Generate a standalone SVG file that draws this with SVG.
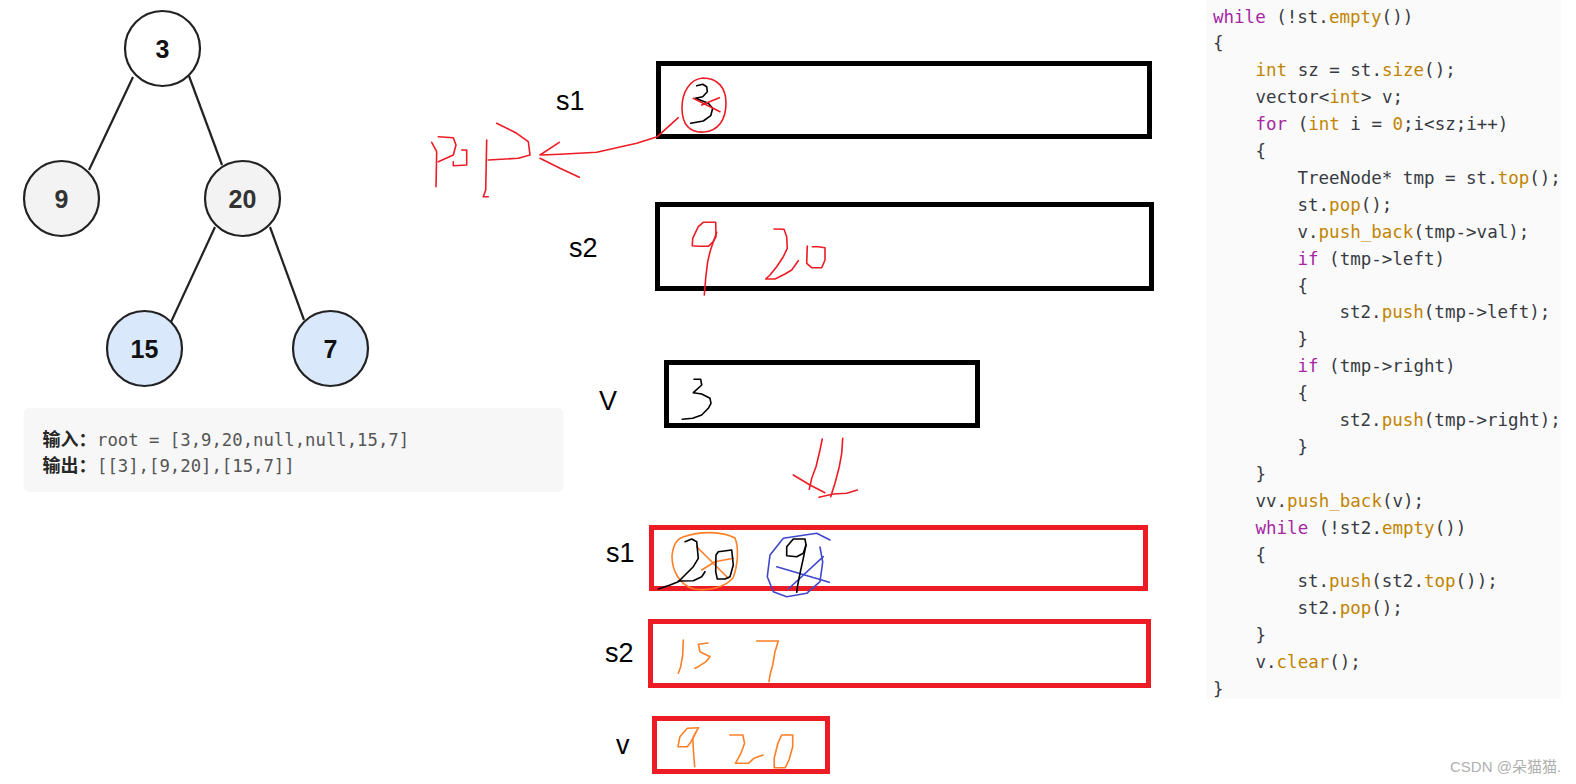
<svg xmlns="http://www.w3.org/2000/svg" width="1576" height="784" viewBox="0 0 1576 784">
<style>
.node{stroke:#222;stroke-width:2.2}
.nt{font-family:"Liberation Sans",Arial,sans-serif;font-weight:bold;font-size:25px;text-anchor:middle}
.edge{stroke:#222;stroke-width:2.2;fill:none}
.lbl{font-family:"Liberation Sans",Arial,sans-serif;font-size:27px;fill:#000}
.bbox{fill:none;stroke:#000;stroke-width:5}
.rbox{fill:none;stroke:#ed1c24;stroke-width:5}
.hw{fill:none;stroke-width:1.6;stroke-linejoin:round;stroke-linecap:round}
.red{stroke:#ed1c24}
.blk{stroke:#000}
.org{stroke:#ff7f27}
.blu{stroke:#3f48cc}
.code{font-family:"DejaVu Sans Mono",monospace;font-size:17.5px;fill:#383a42}
.k{fill:#a626a4}
.f{fill:#c18401}
.cjk{font-family:"Noto Sans CJK SC",sans-serif;font-weight:bold;font-size:18px;fill:#262626}
.mono{font-family:"DejaVu Sans Mono",monospace;font-size:17.3px;fill:#555}
</style>

<!-- Tree connectors -->
<g id="connectors">
<line class="edge" x1="133" y1="77" x2="89" y2="170"/>
<line class="edge" x1="189" y1="76" x2="222" y2="165"/>
<line class="edge" x1="215" y1="227" x2="171" y2="322"/>
<line class="edge" x1="270" y1="227" x2="304" y2="320"/>
</g>
<g id="node-3"><circle class="node" cx="162.5" cy="48.5" r="37.5" fill="#ffffff"/><text class="nt" x="162.5" y="57.5" fill="#111">3</text></g>
<g id="node-9"><circle class="node" cx="61.5" cy="198.5" r="37.5" fill="#f3f3f3"/><text class="nt" x="61.5" y="207.5" fill="#333">9</text></g>
<g id="node-20"><circle class="node" cx="242.5" cy="198.5" r="37.5" fill="#f3f3f3"/><text class="nt" x="242.5" y="207.5" fill="#333">20</text></g>
<g id="node-15"><circle class="node" cx="144.5" cy="348.5" r="37.5" fill="#dae8fc"/><text class="nt" x="144.5" y="357.5" fill="#111">15</text></g>
<g id="node-7"><circle class="node" cx="330.5" cy="348.5" r="37.5" fill="#dae8fc"/><text class="nt" x="330.5" y="357.5" fill="#111">7</text></g>

<!-- Example box -->
<g id="example">
<rect x="23.5" y="408" width="540" height="84" rx="6" fill="#f7f7f8"/>
<text class="cjk" x="42.5" y="446">输入：</text>
<text class="mono" x="97" y="446">root = [3,9,20,null,null,15,7]</text>
<text class="cjk" x="42.5" y="472">输出：</text>
<text class="mono" x="97" y="472">[[3],[9,20],[15,7]]</text>
</g>

<!-- Labels and boxes -->
<text class="lbl" x="556" y="110">s1</text>
<rect class="bbox" x="658.5" y="63.5" width="491" height="73"/>
<text class="lbl" x="569" y="257">s2</text>
<rect class="bbox" x="657.5" y="204.5" width="494" height="84"/>
<text class="lbl" x="599" y="410">V</text>
<rect class="bbox" x="666.5" y="362.5" width="311" height="63"/>
<text class="lbl" x="606" y="562">s1</text>
<rect class="rbox" x="651.5" y="527.5" width="494" height="61"/>
<text class="lbl" x="605" y="662">s2</text>
<rect class="rbox" x="650.5" y="621.5" width="498" height="64"/>
<text class="lbl" x="616" y="754">v</text>
<rect class="rbox" x="654.5" y="718.5" width="173" height="53"/>

<!-- Handwriting: PoP arrow & circled 3 -->
<g id="hand-pop">
<path class="hw red" d="M431.7,142.3 L436.7,151.7 L436,186.7"/>
<path class="hw red" d="M438.3,136.7 L453.3,137.7 L456,145 L453.3,155 L438.3,161.7"/>
<path class="hw red" d="M453.3,161.7 L453.3,165.7 L466.7,165 L466.7,150 L461.7,150"/>
<path class="hw red" d="M486.7,140 L485.7,190 L483.3,196.7 L488.3,196.7"/>
<path class="hw red" d="M496.7,123.3 L516.7,133.3 L528.3,141.7 L530,155 L518.3,158.3 L488.3,160"/>
<path class="hw red" d="M678.3,117.7 L657.3,136.7 L636.7,143.3 L596.7,152.3 L560,154.3 L541.7,155"/>
<path class="hw red" d="M559.3,142.3 L540,155"/>
<path class="hw red" d="M540,158.3 L560,168.3 L579.3,177.3"/>
<path class="hw red" d="M703,78 C690,79 682,92 682,108 C682,125 690,133 704,132 C718,131 726,120 726,103 C726,88 718,78 703,78 Z"/>
<path class="hw blk" d="M696.7,85.7 L702.7,84.3 L706.7,86.7 L707.3,91.7 L702.7,96.7 L695.3,98.3 L700,100 L708.3,103.3 L712.7,108.3 L710.7,115.7 L703.3,121 L690.7,123.3"/>
<path class="hw red" d="M693.3,98.3 L720,111.7 M701.7,105 L719.3,97.7"/>
</g>

<!-- Handwriting: s2 "9 20" -->
<g id="hand-s2">
<path class="hw red" d="M715.7,222.3 L703.3,222.3 L698.3,226.7 L692.7,238.3 L692.3,245.7 L698.3,246.3 L708.3,246.3 L713.3,241.7 L716,236.7 L715.7,222.3"/>
<path class="hw red" d="M716.7,232.3 L713.3,241.7 L710,251.7 L707.7,261.7 L706,275 L704.3,295"/>
<path class="hw red" d="M774,229 L784,229.3 L786.7,236.7 L787.3,248.3 L783.3,256.7 L776.7,266.7 L770,275 L765.7,279 L775,279 L785,274 L791.7,270 L798.3,260.7"/>
<path class="hw red" d="M807.3,246 L806.7,263.3 L811.7,267.7 L821.7,267.7 L825,260 L825,247.7 L818.3,246.7 L812.3,246.7"/>
</g>

<!-- Handwriting: v "3" and down arrow -->
<g id="hand-v">
<path class="hw blk" d="M694,379.3 L700.7,379.3 L701.7,385 L693.3,392.7 L701.7,394 L710,398.3 L711,403.3 L708.3,408.3 L701.7,415 L692.7,418.3 L682.3,419.3"/>
<path class="hw red" d="M822.3,439 L820,450 L816,466.7 L811.7,478.3 L809.3,489.3"/>
<path class="hw red" d="M842.7,438.3 L841.7,453.3 L839.3,466.7 L835,483.3 L830.7,496.7"/>
<path class="hw red" d="M793.3,475 L810,485 L825,492.7"/>
<path class="hw red" d="M819,497.3 L833.3,494 L846.7,493.3 L857.3,490"/>
</g>

<!-- Handwriting: lower s1 -->
<g id="hand-s1b">
<path class="hw org" d="M683,537 C700,531 722,531 735,538 C739,548 738,565 733,578 C724,588 708,591 694,589 C679,585 672,570 672,556 C673,545 677,539 683,537 Z"/>
<path class="hw org" d="M696.7,546.7 L728.3,578.3 M701.7,570 L715,561.7 L733.3,558.3"/>
<path class="hw blk" d="M685,541.7 L691.7,539 L696.7,541.7 L698.3,558.3 L693.3,566.7 L683.3,576.7 L678.3,581.7 L670,585 L658.3,589"/>
<path class="hw blk" d="M678.3,581 L693.3,580.7 L701.7,576.7 L705,571.7"/>
<path class="hw blk" d="M716,555 L718.3,551.7 L731.7,550 L733.3,565 L730,576.7 L725,579 L717.3,579 L715.7,571.7 L716,555"/>
<path class="hw blu" d="M830,540 L816.7,533.3 L783.3,538.3 L770,555 L767.3,576.7 L773.3,591.7 L786.7,596.7 L806.7,593.3 L820,581.7 L822.7,562 L820,547"/>
<path class="hw blu" d="M776.7,566.7 L829.3,582.3 M788.3,589 L823.3,556.7"/>
<path class="hw blk" d="M805,539 L793.3,539 L786.7,546.7 L786.7,555.7 L796.7,556.7 L803.3,553.3 L806,545 L805,539"/>
<path class="hw blk" d="M806,545 L803.3,558.3 L800,573.3 L797.7,585 L796.7,592.3"/>
</g>

<!-- Handwriting: lower s2 -->
<g id="hand-s2b">
<path class="hw org" d="M683.3,640 L682.7,655 L680.7,666.7 L678.3,673.3"/>
<path class="hw org" d="M708,643 L698.3,644.3 L700,651.7 L710,656.7 L706,661.7 L698.3,666.7 L695,668.3"/>
<path class="hw org" d="M756.7,641 L778.3,641 L775,651.7 L772.7,665 L770,675 L769,681.7"/>
</g>

<!-- Handwriting: lower v -->
<g id="hand-vb">
<path class="hw org" d="M698.4,727.7 L687.3,728.3 L679.9,736.7 L678,746.7 L687.3,746.7 L691,741.7 L696,732"/>
<path class="hw org" d="M698.4,727.7 L692.8,738.3 L693.5,752 L694.7,766.7"/>
<path class="hw org" d="M729.8,735 L742.8,735 L744.6,743.3 L740.9,753.3 L735.4,763.3 L748.3,763.3 L753.9,758.3 L763.1,755"/>
<path class="hw org" d="M781.6,735 L792.7,735 L792.7,746.7 L789,760 L785.3,767.7 L774.2,767.7 L774.2,758.3 L777.9,743.3 L781.6,735"/>
</g>

<!-- Code panel -->
<g id="code">
<rect x="1206" y="0" width="355" height="699" fill="#fafafa"/>
<text class="code" x="1213" y="22.5"><tspan class="k">while</tspan> (!st.<tspan class="f">empty</tspan>())</text>
<text class="code" x="1213" y="49.4">{</text>
<text class="code" x="1255.5" y="76.3"><tspan class="f">int</tspan> sz = st.<tspan class="f">size</tspan>();</text>
<text class="code" x="1255.5" y="103.2">vector&lt;<tspan class="f">int</tspan>&gt; v;</text>
<text class="code" x="1255.5" y="130.1"><tspan class="k">for</tspan> (<tspan class="f">int</tspan> i = <tspan class="f">0</tspan>;i&lt;sz;i++)</text>
<text class="code" x="1255.5" y="157">{</text>
<text class="code" x="1297.5" y="183.9">TreeNode* tmp = st.<tspan class="f">top</tspan>();</text>
<text class="code" x="1297.5" y="210.8">st.<tspan class="f">pop</tspan>();</text>
<text class="code" x="1297.5" y="237.7">v.<tspan class="f">push_back</tspan>(tmp-&gt;val);</text>
<text class="code" x="1297.5" y="264.6"><tspan class="k">if</tspan> (tmp-&gt;left)</text>
<text class="code" x="1297.5" y="291.5">{</text>
<text class="code" x="1339.5" y="318.4">st2.<tspan class="f">push</tspan>(tmp-&gt;left);</text>
<text class="code" x="1297.5" y="345.3">}</text>
<text class="code" x="1297.5" y="372.2"><tspan class="k">if</tspan> (tmp-&gt;right)</text>
<text class="code" x="1297.5" y="399.1">{</text>
<text class="code" x="1339.5" y="426">st2.<tspan class="f">push</tspan>(tmp-&gt;right);</text>
<text class="code" x="1297.5" y="452.9">}</text>
<text class="code" x="1255.5" y="479.8">}</text>
<text class="code" x="1255.5" y="506.7">vv.<tspan class="f">push_back</tspan>(v);</text>
<text class="code" x="1255.5" y="533.6"><tspan class="k">while</tspan> (!st2.<tspan class="f">empty</tspan>())</text>
<text class="code" x="1255.5" y="560.5">{</text>
<text class="code" x="1297.5" y="587.4">st.<tspan class="f">push</tspan>(st2.<tspan class="f">top</tspan>());</text>
<text class="code" x="1297.5" y="614.3">st2.<tspan class="f">pop</tspan>();</text>
<text class="code" x="1255.5" y="641.2">}</text>
<text class="code" x="1255.5" y="668.1">v.<tspan class="f">clear</tspan>();</text>
<text class="code" x="1213" y="695">}</text>
</g>

<text x="1450" y="772" font-family="'Liberation Sans','Noto Sans CJK SC',sans-serif" font-size="15" fill="#b0b0b0">CSDN @朵猫猫.</text>
</svg>
